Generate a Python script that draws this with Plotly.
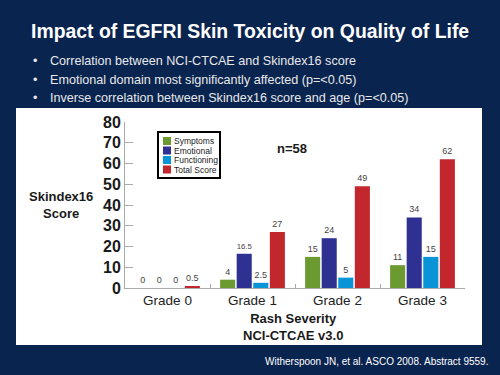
import plotly.graph_objects as go

categories = ["Grade 0", "Grade 1", "Grade 2", "Grade 3"]
symptoms = [0, 4, 15, 11]
emotional = [0, 16.5, 24, 34]
functioning = [0, 2.5, 5, 15]
total_score = [0.5, 27, 49, 62]
series_names = ["Symptoms", "Emotional", "Functioning", "Total Score"]
colors = ["#6a9a30", "#2e3192", "#0a94d8", "#c1272d"]
y_ticks = [0, 10, 20, 30, 40, 50, 60, 70, 80]

W, H = 500, 375
L, R, T, B = 125, 465, 122, 288
navy = "#0a2450"


def px(x):
    return (x - L) / (R - L)


def py(y):
    return (B - y) / (B - T)


fig = go.Figure()
for name, vals, col in zip(series_names, [symptoms, emotional, functioning, total_score], colors):
    fig.add_trace(go.Bar(
        name=name, x=categories, y=vals, marker=dict(color=col, line=dict(width=0)),
        text=[f"{v:g}" for v in vals], textposition="outside", cliponaxis=False,
        textfont=dict(size=9, color="#444444", family="Liberation Sans"),
    ))

shapes = [dict(type="rect", xref="paper", yref="paper", layer="below",
               x0=px(16), x1=px(482), y0=py(345), y1=py(108),
               fillcolor="white", line=dict(width=0))]
# legend box (drawn manually for compact layout)
shapes.append(dict(type="rect", xref="paper", yref="paper", layer="above",
                   x0=px(158), x1=px(220), y0=py(178), y1=py(132),
                   fillcolor="rgba(0,0,0,0)", line=dict(color="black", width=2)))
ann = []
leg_y = [141, 150.5, 160, 169.5]
for name, col, yy in zip(series_names, colors, leg_y):
    shapes.append(dict(type="rect", xref="paper", yref="paper", layer="above",
                       x0=px(163), x1=px(171), y0=py(yy + 4), y1=py(yy - 4),
                       fillcolor=col, line=dict(width=0)))
    ann.append(dict(text=name, x=px(172), y=py(yy), xanchor="left", yanchor="middle",
                    font=dict(size=8.5, color="#222222", family="Liberation Sans")))

fig.update_layout(
    width=W, height=H,
    margin=dict(l=L, r=W - R, t=T, b=H - B, pad=0),
    paper_bgcolor=navy, plot_bgcolor="white",
    barmode="group", bargap=0.22, bargroupgap=0.09,
    showlegend=False,
    font=dict(family="Liberation Sans"),
    shapes=shapes,
)
fig.update_yaxes(range=[0, 80], tickvals=y_ticks, showgrid=False, zeroline=False,
                 showline=True, linecolor="#aaaaaa", linewidth=1,
                 ticks="inside", ticklen=8, tickcolor="#aaaaaa",
                 tickfont=dict(size=16, color="#1a1a1a", family="Liberation Sans", weight="bold"))
fig.update_xaxes(showgrid=False, showline=True, linecolor="#aaaaaa", linewidth=1,
                 ticks="inside", tickson="boundaries", ticklen=4, tickcolor="#aaaaaa",
                 tickfont=dict(size=13.5, color="#222222", family="Liberation Sans"))

ann.append(dict(text="<b>Impact of EGFRI Skin Toxicity on Quality of Life</b>", x=px(29), y=py(31),
                xanchor="left", yanchor="middle",
                font=dict(size=19.4, color="white", family="Liberation Sans")))
bullets = ["Correlation between NCI-CTCAE and Skindex16 score",
           "Emotional domain most significantly affected (p=<0.05)",
           "Inverse correlation between Skindex16 score and age (p=<0.05)"]
for i, b in enumerate(bullets):
    yy = [61, 80, 98][i]
    ann.append(dict(text="•", x=px(31), y=py(yy), xanchor="left", yanchor="middle",
                    font=dict(size=12.6, color="#e8e8e8", family="Liberation Sans")))
    ann.append(dict(text=b, x=px(48), y=py(yy), xanchor="left", yanchor="middle",
                    font=dict(size=12.6, color="#e8e8e8", family="Liberation Sans")))
ann.append(dict(text="<b>Skindex16<br>Score</b>", x=px(61), y=py(205), xanchor="center", yanchor="middle",
                font=dict(size=13, color="#1a1a1a", family="Liberation Sans")))
ann.append(dict(text="<b>n=58</b>", x=px(292), y=py(148), xanchor="center", yanchor="middle",
                font=dict(size=13, color="#1a1a1a", family="Liberation Sans")))
ann.append(dict(text="<b>Rash Severity<br>NCI-CTCAE v3.0</b>", x=px(293), y=py(327), xanchor="center", yanchor="middle",
                font=dict(size=13, color="#1a1a1a", family="Liberation Sans")))
ann.append(dict(text="Witherspoon JN, et al. ASCO 2008. Abstract 9559.", x=px(490), y=py(361),
                xanchor="right", yanchor="middle",
                font=dict(size=10, color="white", family="Liberation Sans")))
for a in ann:
    a.update(xref="paper", yref="paper", showarrow=False)
fig.update_layout(annotations=ann)

fig.write_html("out.html", config={"displayModeBar": False},
               post_script="document.body.style.margin='0';document.body.style.overflow='hidden';"
                           "document.body.style.background='" + navy + "';")
